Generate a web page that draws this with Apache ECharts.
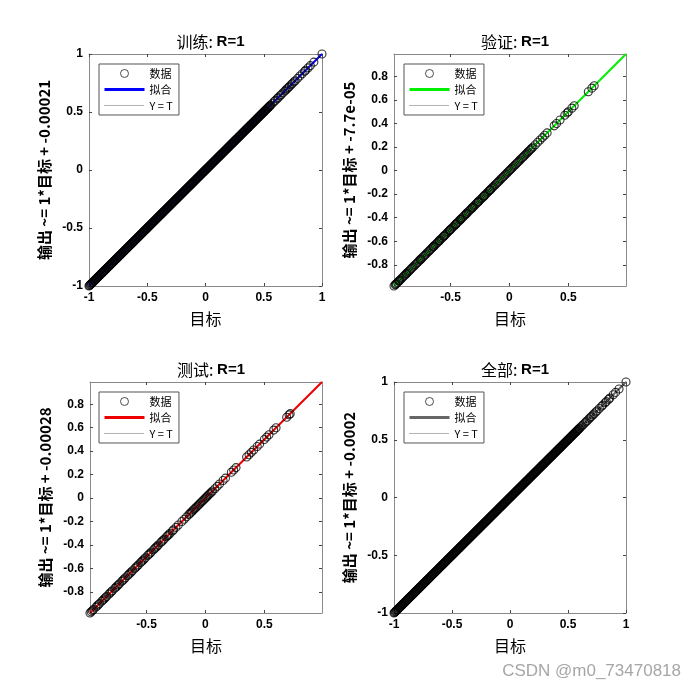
<!DOCTYPE html>
<html>
<head>
<meta charset="utf-8">
<script src="https://cdn.jsdelivr.net/npm/echarts@6/dist/echarts.min.js"></script>
<style>html,body{margin:0;padding:0;background:#fff;}#c{width:693px;height:693px;}</style>
</head>
<body>
<div id="c"></div>
<script>
// ---- data (points lie on Y = T: target value = output value) ----
const trainPts = [-1,-0.995,-0.99,-0.985,-0.98,-0.975,-0.97,-0.965,-0.96,-0.955,-0.95,-0.945,-0.94,-0.935,-0.93,-0.925,-0.92,-0.915,-0.91,-0.905,-0.9,-0.895,-0.89,-0.885,-0.88,-0.875,-0.87,-0.865,-0.86,-0.855,-0.85,-0.845,-0.84,-0.835,-0.83,-0.825,-0.82,-0.815,-0.81,-0.805,-0.8,-0.795,-0.79,-0.785,-0.78,-0.775,-0.77,-0.765,-0.76,-0.755,-0.75,-0.745,-0.74,-0.735,-0.73,-0.725,-0.72,-0.715,-0.71,-0.705,-0.7,-0.695,-0.69,-0.685,-0.68,-0.675,-0.67,-0.665,-0.66,-0.655,-0.65,-0.645,-0.64,-0.635,-0.63,-0.625,-0.62,-0.615,-0.61,-0.605,-0.6,-0.595,-0.59,-0.585,-0.58,-0.575,-0.57,-0.565,-0.56,-0.555,-0.55,-0.545,-0.54,-0.535,-0.53,-0.525,-0.52,-0.515,-0.51,-0.505,-0.5,-0.495,-0.49,-0.485,-0.48,-0.475,-0.47,-0.465,-0.46,-0.455,-0.45,-0.445,-0.44,-0.435,-0.43,-0.425,-0.42,-0.415,-0.41,-0.405,-0.4,-0.395,-0.39,-0.385,-0.38,-0.375,-0.37,-0.365,-0.36,-0.355,-0.35,-0.345,-0.34,-0.335,-0.33,-0.325,-0.32,-0.315,-0.31,-0.305,-0.3,-0.295,-0.29,-0.285,-0.28,-0.275,-0.27,-0.265,-0.26,-0.255,-0.25,-0.245,-0.24,-0.235,-0.23,-0.225,-0.22,-0.215,-0.21,-0.205,-0.2,-0.195,-0.19,-0.185,-0.18,-0.175,-0.17,-0.165,-0.16,-0.155,-0.15,-0.145,-0.14,-0.135,-0.13,-0.125,-0.12,-0.115,-0.11,-0.105,-0.1,-0.095,-0.09,-0.085,-0.08,-0.075,-0.07,-0.065,-0.06,-0.055,-0.05,-0.045,-0.04,-0.035,-0.03,-0.025,-0.02,-0.015,-0.01,-0.005,0,0.005,0.01,0.015,0.02,0.025,0.03,0.035,0.04,0.045,0.05,0.055,0.06,0.065,0.07,0.075,0.08,0.085,0.09,0.095,0.1,0.105,0.11,0.115,0.12,0.125,0.13,0.135,0.14,0.145,0.15,0.155,0.16,0.165,0.17,0.175,0.18,0.185,0.19,0.195,0.2,0.205,0.21,0.215,0.22,0.225,0.23,0.235,0.24,0.245,0.25,0.255,0.26,0.265,0.27,0.275,0.28,0.285,0.29,0.295,0.3,0.305,0.31,0.315,0.32,0.325,0.33,0.335,0.34,0.345,0.35,0.355,0.36,0.365,0.37,0.375,0.38,0.385,0.39,0.395,0.4,0.405,0.41,0.415,0.42,0.425,0.43,0.435,0.44,0.445,0.45,0.455,0.46,0.465,0.47,0.475,0.48,0.485,0.49,0.495,0.5,0.505,0.51,0.515,0.52,0.525,0.53,0.535,0.54,0.545,0.55,0.555,0.56,0.575,0.59,0.6,0.615,0.625,0.64,0.65,0.665,0.68,0.69,0.7,0.71,0.72,0.735,0.745,0.76,0.77,0.79,0.81,0.83,0.85,0.86,0.88,0.9,0.93,1];
const validPts = [-0.98,-0.97,-0.965,-0.96,-0.95,-0.94,-0.935,-0.93,-0.92,-0.91,-0.9,-0.89,-0.88,-0.875,-0.87,-0.86,-0.85,-0.84,-0.83,-0.82,-0.81,-0.8,-0.79,-0.78,-0.77,-0.76,-0.755,-0.75,-0.74,-0.73,-0.72,-0.71,-0.7,-0.69,-0.68,-0.67,-0.66,-0.65,-0.645,-0.64,-0.63,-0.62,-0.61,-0.6,-0.595,-0.59,-0.58,-0.57,-0.56,-0.555,-0.55,-0.54,-0.53,-0.52,-0.51,-0.505,-0.5,-0.49,-0.48,-0.47,-0.46,-0.455,-0.45,-0.44,-0.43,-0.42,-0.415,-0.41,-0.4,-0.39,-0.38,-0.37,-0.365,-0.36,-0.35,-0.34,-0.33,-0.32,-0.315,-0.31,-0.3,-0.29,-0.28,-0.27,-0.265,-0.26,-0.25,-0.24,-0.23,-0.22,-0.215,-0.21,-0.2,-0.19,-0.18,-0.17,-0.165,-0.16,-0.15,-0.14,-0.13,-0.12,-0.11,-0.1,-0.09,-0.08,-0.07,-0.06,-0.05,-0.04,-0.03,-0.02,-0.01,0,0.01,0.02,0.03,0.04,0.05,0.06,0.07,0.08,0.09,0.1,0.11,0.12,0.13,0.14,0.15,0.16,0.17,0.18,0.19,0.2,0.22,0.24,0.26,0.28,0.3,0.32,0.38,0.4,0.43,0.47,0.49,0.5,0.53,0.55,0.67,0.7,0.72];
const testPts = [-0.98,-0.97,-0.96,-0.95,-0.93,-0.92,-0.91,-0.9,-0.88,-0.87,-0.86,-0.85,-0.84,-0.82,-0.81,-0.8,-0.79,-0.77,-0.76,-0.75,-0.74,-0.73,-0.71,-0.7,-0.69,-0.68,-0.66,-0.65,-0.64,-0.63,-0.62,-0.6,-0.59,-0.58,-0.57,-0.55,-0.54,-0.53,-0.52,-0.51,-0.49,-0.48,-0.47,-0.46,-0.44,-0.43,-0.42,-0.41,-0.4,-0.38,-0.37,-0.36,-0.35,-0.33,-0.32,-0.31,-0.3,-0.28,-0.27,-0.25,-0.23,-0.2,-0.18,-0.16,-0.14,-0.13,-0.12,-0.11,-0.1,-0.09,-0.08,-0.07,-0.06,-0.05,-0.04,-0.03,-0.02,-0.01,0,0.01,0.02,0.03,0.04,0.05,0.06,0.08,0.1,0.12,0.15,0.17,0.22,0.24,0.26,0.35,0.37,0.39,0.41,0.44,0.46,0.5,0.52,0.54,0.58,0.6,0.69,0.71,0.72];
const allPts = [-1,-0.995,-0.99,-0.985,-0.98,-0.975,-0.97,-0.965,-0.96,-0.955,-0.95,-0.945,-0.94,-0.935,-0.93,-0.925,-0.92,-0.915,-0.91,-0.905,-0.9,-0.895,-0.89,-0.885,-0.88,-0.875,-0.87,-0.865,-0.86,-0.855,-0.85,-0.845,-0.84,-0.835,-0.83,-0.825,-0.82,-0.815,-0.81,-0.805,-0.8,-0.795,-0.79,-0.785,-0.78,-0.775,-0.77,-0.765,-0.76,-0.755,-0.75,-0.745,-0.74,-0.735,-0.73,-0.725,-0.72,-0.715,-0.71,-0.705,-0.7,-0.695,-0.69,-0.685,-0.68,-0.675,-0.67,-0.665,-0.66,-0.655,-0.65,-0.645,-0.64,-0.635,-0.63,-0.625,-0.62,-0.615,-0.61,-0.605,-0.6,-0.595,-0.59,-0.585,-0.58,-0.575,-0.57,-0.565,-0.56,-0.555,-0.55,-0.545,-0.54,-0.535,-0.53,-0.525,-0.52,-0.515,-0.51,-0.505,-0.5,-0.495,-0.49,-0.485,-0.48,-0.475,-0.47,-0.465,-0.46,-0.455,-0.45,-0.445,-0.44,-0.435,-0.43,-0.425,-0.42,-0.415,-0.41,-0.405,-0.4,-0.395,-0.39,-0.385,-0.38,-0.375,-0.37,-0.365,-0.36,-0.355,-0.35,-0.345,-0.34,-0.335,-0.33,-0.325,-0.32,-0.315,-0.31,-0.305,-0.3,-0.295,-0.29,-0.285,-0.28,-0.275,-0.27,-0.265,-0.26,-0.255,-0.25,-0.245,-0.24,-0.235,-0.23,-0.225,-0.22,-0.215,-0.21,-0.205,-0.2,-0.195,-0.19,-0.185,-0.18,-0.175,-0.17,-0.165,-0.16,-0.155,-0.15,-0.145,-0.14,-0.135,-0.13,-0.125,-0.12,-0.115,-0.11,-0.105,-0.1,-0.095,-0.09,-0.085,-0.08,-0.075,-0.07,-0.065,-0.06,-0.055,-0.05,-0.045,-0.04,-0.035,-0.03,-0.025,-0.02,-0.015,-0.01,-0.005,0,0.005,0.01,0.015,0.02,0.025,0.03,0.035,0.04,0.045,0.05,0.055,0.06,0.065,0.07,0.075,0.08,0.085,0.09,0.095,0.1,0.105,0.11,0.115,0.12,0.125,0.13,0.135,0.14,0.145,0.15,0.155,0.16,0.165,0.17,0.175,0.18,0.185,0.19,0.195,0.2,0.205,0.21,0.215,0.22,0.225,0.23,0.235,0.24,0.245,0.25,0.255,0.26,0.265,0.27,0.275,0.28,0.285,0.29,0.295,0.3,0.305,0.31,0.315,0.32,0.325,0.33,0.335,0.34,0.345,0.35,0.355,0.36,0.365,0.37,0.375,0.38,0.385,0.39,0.395,0.4,0.405,0.41,0.415,0.42,0.425,0.43,0.435,0.44,0.445,0.45,0.455,0.46,0.465,0.47,0.475,0.48,0.485,0.49,0.495,0.5,0.505,0.51,0.515,0.52,0.525,0.53,0.535,0.54,0.545,0.55,0.555,0.56,0.565,0.57,0.575,0.58,0.585,0.59,0.595,0.6,0.61,0.62,0.63,0.645,0.655,0.665,0.68,0.69,0.7,0.715,0.725,0.74,0.75,0.77,0.79,0.8,0.82,0.83,0.85,0.86,0.89,0.91,0.94,1];

// axis limits [min, max] per panel
const trainLim = [-1, 1];
const validLim = [-0.98, 0.99];
const testLim = [-0.98, 0.99];
const allLim = [-1, 1];

// tick labels
const ticksFull = [-1, -0.5, 0, 0.5, 1];
const ticksXPart = [-0.5, 0, 0.5];
const ticksYPart = [-0.8, -0.6, -0.4, -0.2, 0, 0.2, 0.4, 0.6, 0.8];

const titleNames = ['训练', '验证', '测试', '全部'];
const rValues = ['R=1', 'R=1', 'R=1', 'R=1'];
const yNames = ['输出 ~= 1*目标 + -0.00021', '输出 ~= 1*目标 + -7.7e-05', '输出 ~= 1*目标 + -0.00028', '输出 ~= 1*目标 + -0.0002'];
const xName = '目标';
const legendNames = ['数据', '拟合', 'Y = T'];
const fitColors = ['#0000ff', '#00ee00', '#ee0000', '#666666'];

// ---- layout ----
const panels = [
  {pts: trainPts, lim: trainLim, xt: ticksFull, yt: ticksFull, grid: {left: 89, top: 54, width: 233, height: 232}, legend: {left: 99, top: 64}},
  {pts: validPts, lim: validLim, xt: ticksXPart, yt: ticksYPart, grid: {left: 394, top: 54, width: 232, height: 232}, legend: {left: 404, top: 64}},
  {pts: testPts, lim: testLim, xt: ticksXPart, yt: ticksYPart, grid: {left: 90, top: 382, width: 232, height: 231}, legend: {left: 99, top: 392}},
  {pts: allPts, lim: allLim, xt: ticksFull, yt: ticksFull, grid: {left: 394, top: 382, width: 232, height: 231}, legend: {left: 404, top: 392}}
];

const CJK = '"Noto Sans CJK SC", "Liberation Sans", sans-serif';
const NUM = '"Liberation Sans", Arial, sans-serif';
const frameColor = '#8a8a8a';
const tickColor = '#444';

const grid = [], xAxis = [], yAxis = [], series = [], legend = [], title = [];

panels.forEach((p, i) => {
  grid.push(Object.assign({containLabel: false}, p.grid));
  const cx = p.grid.left + p.grid.width / 2;
  title.push({
    text: '{a|' + titleNames[i] + ': }{b|' + rValues[i] + '}',
    left: cx, top: p.grid.top - 25, textAlign: 'center',
    textStyle: {fontWeight: 'normal', rich: {
      a: {fontSize: 16, fontWeight: 'normal', fontFamily: CJK, color: '#000'},
      b: {fontSize: 15, fontWeight: 'bold', fontFamily: NUM, color: '#000'}
    }}
  });
  const baseAxis = (pos, ticks, showLabel) => ({
    gridIndex: i, type: 'value', position: pos,
    min: p.lim[0], max: p.lim[1],
    axisLine: {show: true, onZero: false, lineStyle: {color: frameColor, width: 1}},
    axisTick: {show: true, inside: true, length: 3, customValues: ticks, lineStyle: {color: tickColor}},
    axisLabel: {show: showLabel, customValues: ticks, fontSize: 12, fontWeight: 'bold', fontFamily: NUM, color: '#000', margin: 6},
    splitLine: {show: false}
  });
  const xb = baseAxis('bottom', p.xt, true);
  xb.name = xName; xb.nameLocation = 'middle'; xb.nameGap = 25;
  xb.nameTextStyle = {fontSize: 16, fontFamily: CJK, color: '#000'};
  xAxis.push(xb);
  const yl = baseAxis('left', p.yt, true);
  yl.name = yNames[i]; yl.nameLocation = 'middle'; yl.nameRotate = 90; yl.nameGap = 37;
  yl.nameTextStyle = {fontSize: 15, fontWeight: 'bold', fontFamily: CJK, color: '#000'};
  yAxis.push(yl);
});
panels.forEach((p, i) => {
  const ax = (pos, ticks) => ({
    gridIndex: i, type: 'value', position: pos, min: p.lim[0], max: p.lim[1],
    axisLine: {show: true, onZero: false, lineStyle: {color: frameColor, width: 1}},
    axisTick: {show: true, inside: true, length: 3, customValues: ticks, lineStyle: {color: tickColor}},
    axisLabel: {show: false}, splitLine: {show: false}
  });
  xAxis.push(ax('top', p.xt));
  yAxis.push(ax('right', p.yt));
});

panels.forEach((p, i) => {
  const tag = '#' + i;
  series.push({
    name: legendNames[2] + tag, type: 'line', xAxisIndex: i, yAxisIndex: i,
    data: [[p.lim[0], p.lim[0]], [p.lim[1], p.lim[1]]],
    symbol: 'none', silent: true, z: 1,
    lineStyle: {color: '#333', width: 1, type: 'dotted'}, itemStyle: {color: '#333'}
  });
  series.push({
    name: legendNames[1] + tag, type: 'line', xAxisIndex: i, yAxisIndex: i,
    data: [[p.lim[0], p.lim[0]], [p.lim[1], p.lim[1]]],
    symbol: 'none', silent: true, z: 2,
    lineStyle: {color: fitColors[i], width: 2}, itemStyle: {color: fitColors[i]}
  });
  series.push({
    name: legendNames[0] + tag, type: 'scatter', xAxisIndex: i, yAxisIndex: i,
    data: p.pts.map(v => [v, v]),
    symbol: 'circle', symbolSize: 8, silent: true, z: 3,
    itemStyle: {color: 'rgba(0,0,0,0)', borderColor: '#000', borderWidth: 1.1}
  });
  legend.push({
    orient: 'vertical', left: p.legend.left, top: p.legend.top,
    data: [
      {name: legendNames[0] + tag, itemStyle: {color: 'rgba(0,0,0,0)', borderColor: '#222', borderWidth: 1}},
      {name: legendNames[1] + tag, itemStyle: {opacity: 0}, lineStyle: {width: 3, color: fitColors[i]}},
      {name: legendNames[2] + tag, itemStyle: {opacity: 0}, lineStyle: {width: 1, color: '#666', type: 'dotted'}}
    ],
    formatter: n => n.split('#')[0],
    itemWidth: 40, itemHeight: 8, itemGap: 5,
    padding: [4, 6, 4, 4],
    borderColor: '#555', borderWidth: 1, backgroundColor: '#fff', borderRadius: 0,
    selectedMode: false,
    textStyle: {fontSize: 11, color: '#000', fontFamily: CJK}
  });
});

const chart = echarts.init(document.getElementById('c'), null, {renderer: 'canvas'});
chart.setOption({
  backgroundColor: '#fff',
  animation: false,
  title, grid, xAxis, yAxis, series, legend,
  graphic: [{
    type: 'text', right: 12, top: 663,
    style: {text: 'CSDN @m0_73470818', fill: '#a6a6a6', font: '17px "Liberation Sans", Arial, sans-serif'}
  }]
});
</script>
</body>
</html>
